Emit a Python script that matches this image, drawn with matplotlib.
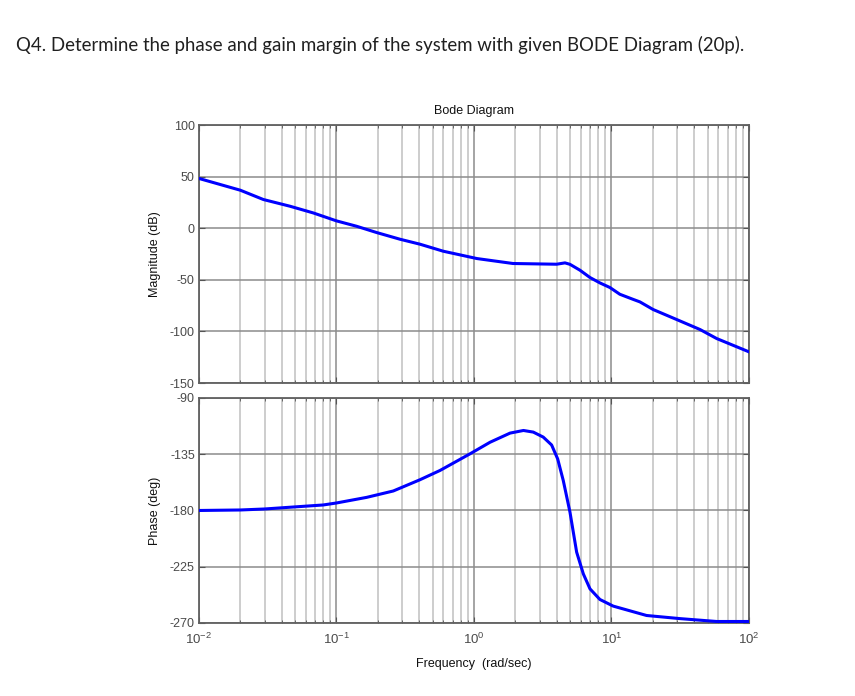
import numpy as np
import matplotlib
matplotlib.use("Agg")
import matplotlib.pyplot as plt
from matplotlib.ticker import LogLocator, NullFormatter, FixedLocator

plt.rcParams["font.family"] = ["Liberation Sans", "DejaVu Sans"]
plt.rcParams["axes.unicode_minus"] = False
plt.rcParams["mathtext.fontset"] = "custom"
plt.rcParams["mathtext.rm"] = "Liberation Sans"
plt.rcParams["mathtext.default"] = "regular"

# Magnitude curve (rad/sec, dB)
mag_w = [0.01, 0.02, 0.0294, 0.0459, 0.0678, 0.1, 0.14, 0.196, 0.29, 0.405,
         0.598, 1.05, 1.92, 3.99, 4.59, 4.99, 5.9, 6.98, 8.24, 9.75,
         11.5, 14.4, 16.1, 20.1, 29.8, 44.1, 58.2, 100]
mag_db = [48.2, 36.8, 27.8, 21.3, 14.8, 7.1, 1.9, -4.2, -10.7, -15.5,
          -22.3, -29.4, -34.2, -34.9, -33.6, -35.0, -40.7, -47.8, -53.0, -57.5,
          -64.0, -69.0, -71.4, -78.8, -88.5, -98.2, -106.9, -119.8]

# Phase curve (rad/sec, deg)
ph_w = [0.01, 0.02, 0.03, 0.046, 0.08, 0.1, 0.166, 0.259, 0.405, 0.566,
        0.935, 1.31, 1.83, 2.29, 2.7, 3.19, 3.67, 4.06, 4.46, 4.99,
        5.58, 6.24, 6.98, 8.24, 10.3, 18.0, 31.5, 58.2, 100]
ph_deg = [-180.0, -179.6, -178.8, -177.4, -175.6, -174.0, -169.5, -164.4, -155.4, -148.0,
          -134.7, -125.4, -118.1, -116.0, -117.3, -121.3, -127.6, -138.7, -156.0, -181.3,
          -213.3, -230.7, -242.7, -251.2, -256.5, -264.0, -266.5, -268.8, -268.8]

mag_ticks = [-150, -100, -50, 0, 50, 100]
ph_ticks = [-270, -225, -180, -135, -90]
dec_ticks = [0.01, 0.1, 1, 10, 100]
dec_labels = [r"$10^{-2}$", r"$10^{-1}$", r"$10^{0}$", r"$10^{1}$", r"$10^{2}$"]

fig = plt.figure(figsize=(8.55, 6.96), dpi=100)
ax1 = fig.add_axes([0.2327, 0.4497, 0.6433, 0.3707])
ax2 = fig.add_axes([0.2327, 0.1049, 0.6433, 0.3233])

for ax, w, y, yt in [(ax1, mag_w, mag_db, mag_ticks), (ax2, ph_w, ph_deg, ph_ticks)]:
    ax.set_xscale("log")
    ax.set_xlim(0.01, 100)
    ax.set_ylim(yt[0], yt[-1])
    ax.yaxis.set_major_locator(FixedLocator(yt))
    ax.xaxis.set_major_locator(FixedLocator(dec_ticks))
    ax.xaxis.set_minor_locator(LogLocator(base=10, subs=np.arange(2, 10), numticks=20))
    ax.xaxis.set_minor_formatter(NullFormatter())
    ax.grid(True, which="major", color="#8c8c8c", lw=1.1)
    ax.grid(True, which="minor", axis="x", color="#cdcdcd", lw=1.4)
    ax.set_axisbelow(True)
    ax.plot(w, y, color="#0000ff", lw=2.2, zorder=3)
    ax.tick_params(which="both", direction="in", top=True, right=True,
                   colors="#555555", labelcolor="#4a4a4a", labelsize=9)
    ax.tick_params(which="major", length=4, pad=3)
    ax.tick_params(which="minor", length=2.5)
    for s in ax.spines.values():
        s.set_color("#606060")
        s.set_linewidth(1.3)

ax1.set_xticklabels([])
ax2.set_xticklabels(dec_labels)
ax2.tick_params(axis="x", which="major", pad=6, labelsize=9.5)
ax1.set_ylabel("Magnitude (dB)", fontsize=9, labelpad=6, color="#111111")
ax2.set_ylabel("Phase (deg)", fontsize=9, labelpad=6, color="#111111")
ax2.set_xlabel("Frequency  (rad/sec)", fontsize=9, labelpad=8, color="#111111")
ax1.set_title("Bode Diagram", fontsize=9, pad=8, color="#111111")
fig.align_ylabels([ax1, ax2])

fig.text(0.019, 0.935, "Q4. Determine the phase and gain margin of the system with given BODE Diagram (20p).",
         fontsize=13.4, family="Lato", color="#202020", va="center", ha="left")

fig.savefig("out.png", dpi=100)
